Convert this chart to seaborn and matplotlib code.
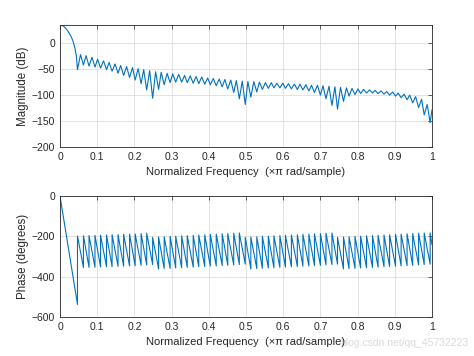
import numpy as np
import pandas as pd
import matplotlib
matplotlib.use("Agg")
import matplotlib.pyplot as plt
import seaborn as sns

# values (N ~ 128 FIR lowpass)

# main lobe of the magnitude response
main_f = [0.0, 0.005, 0.010, 0.015, 0.020, 0.025, 0.030, 0.035, 0.040, 0.044]
main_db = [35, 34.3, 32.5, 29, 24.5, 19, 12.5, 4, -9, -25]

# zeros of the response (visible dip depth in dB)
null_f = [0.047, 0.063, 0.078, 0.094, 0.109, 0.125, 0.140, 0.156, 0.171, 0.187,
          0.202, 0.218, 0.233, 0.249, 0.265, 0.280, 0.296, 0.311, 0.327, 0.342,
          0.358, 0.373, 0.389, 0.404, 0.420, 0.436, 0.451, 0.467, 0.482, 0.498,
          0.513, 0.529, 0.544, 0.560, 0.575, 0.591, 0.606, 0.622, 0.638, 0.653,
          0.669, 0.684, 0.700, 0.715, 0.731, 0.746, 0.762, 0.777, 0.793, 0.808,
          0.824, 0.840, 0.855, 0.871, 0.886, 0.902, 0.917, 0.933, 0.948, 0.964,
          0.979, 0.995]
null_db = [-51, -42, -44, -46, -48, -51, -54, -58, -62, -66,
           -71, -78, -90, -106, -89, -80, -76, -75, -75, -76,
           -77, -78, -79, -80, -82, -84, -88, -95, -107, -118,
           -104, -94, -89, -87, -86, -86, -87, -88, -89, -90,
           -92, -95, -100, -107, -120, -127, -112, -102, -99, -97,
           -96, -96, -97, -98, -100, -102, -105, -109, -115, -124,
           -138, -153]

# sidelobe tops
peak_f = [0.055, 0.070, 0.086, 0.101, 0.117, 0.132, 0.148, 0.163, 0.179, 0.195,
          0.210, 0.225, 0.241, 0.257, 0.272, 0.288, 0.303, 0.319, 0.335, 0.350,
          0.366, 0.381, 0.397, 0.412, 0.428, 0.443, 0.459, 0.474, 0.490, 0.505,
          0.521, 0.536, 0.552, 0.568, 0.583, 0.599, 0.614, 0.630, 0.645, 0.661,
          0.676, 0.692, 0.707, 0.723, 0.739, 0.754, 0.770, 0.785, 0.801, 0.816,
          0.832, 0.847, 0.863, 0.878, 0.894, 0.909, 0.925, 0.940, 0.956, 0.972,
          0.987]
peak_db = [-22, -24, -27, -31, -34, -37, -40, -43, -45, -47,
           -49, -51, -53, -55, -56, -58, -59, -60, -62, -63,
           -64, -65, -67, -68, -69, -70, -71, -72, -73, -74,
           -74, -75, -76, -76, -77, -77, -78, -79, -79, -80,
           -81, -81, -82, -83, -84, -85, -86, -87, -88, -89,
           -90, -91, -92, -93, -94, -96, -98, -100, -103, -108,
           -118]
end_db = -128

# phase: start, tooth tops (after each zero) and bottoms (before each zero)
phase_start = [0, -538]
cycle_top = [-205, -203, -202, -200, -199, -197, -196, -195,
             -193, -192, -190, -189, -187, -186, -184, -183]
cycle_bot = [-362, -360, -359, -357, -356, -354, -353, -351,
             -350, -348, -347, -345, -344, -342, -340, -338]
top_deg = ([-198, -197, -196, -195, -194, -193, -192, -191, -190, -189, -188, -186, -184]
           + cycle_top + cycle_top + cycle_top + [-183])
bot_deg = ([-355, -354, -353, -352, -351, -350, -349, -348, -347, -346, -344, -342, -340]
           + cycle_bot + cycle_bot + cycle_bot)
phase_end = -242

# build the line tables
mag_f = main_f + [v for pair in zip(null_f[:-1], peak_f) for v in pair] + [null_f[-1], 1.0]
mag_y = main_db + [v for pair in zip(null_db[:-1], peak_db) for v in pair] + [null_db[-1], end_db]
mag = pd.DataFrame({"f": mag_f, "db": mag_y})

ph_f = [0.0, null_f[0], null_f[0]] + [v for f in null_f[1:] for v in (f, f)] + [1.0]
ph_y = phase_start + [top_deg[0]] + [v for pair in zip(bot_deg, top_deg[1:]) for v in pair] + [phase_end]
ph = pd.DataFrame({"f": ph_f, "deg": ph_y})

sns.set_theme(style="whitegrid")
plt.rcParams["font.family"] = ["Liberation Sans", "DejaVu Sans"]

blue = "#0072BD"
dark = "#262626"
xlab = "Normalized Frequency  (\u00d7\u03c0 rad/sample)"

fig = plt.figure(figsize=(4.74, 3.56), dpi=100)
ax1 = fig.add_axes([0.1266, 0.587, 0.7848, 0.3427])
ax2 = fig.add_axes([0.1266, 0.110, 0.7848, 0.339])

# faint blog watermark sitting behind the lower x label
fig.text(0.988, 0.036, "blog.csdn.net/qq_45732223", ha="right", va="center",
         color="#dadada", fontsize=7.5, zorder=-1)

sns.lineplot(data=mag, x="f", y="db", ax=ax1, color=blue, lw=0.8, sort=False, estimator=None)
sns.lineplot(data=ph, x="f", y="deg", ax=ax2, color=blue, lw=0.8, sort=False, estimator=None)

ax1.set_ylim(-200, 35)
ax1.set_yticks([0, -50, -100, -150, -200])
ax1.set_ylabel("Magnitude (dB)", labelpad=2)
ax2.set_ylim(-600, 0)
ax2.set_yticks([0, -200, -400, -600])
ax2.set_ylabel("Phase (degrees)", labelpad=2)

xt = [0, 0.1, 0.2, 0.3, 0.4, 0.5, 0.6, 0.7, 0.8, 0.9, 1]
for ax in (ax1, ax2):
    ax.set_xlim(0, 1)
    ax.set_xticks(xt)
    ax.set_xticklabels(["0", "0.1", "0.2", "0.3", "0.4", "0.5", "0.6", "0.7", "0.8", "0.9", "1"])
    ax.set_xlabel(xlab, fontsize=8, color=dark, labelpad=4)
    ax.yaxis.label.set_size(8.3)
    ax.yaxis.label.set_color(dark)
    ax.grid(True, color="#dedede", lw=0.6)
    ax.tick_params(direction="in", top=True, right=True, length=3, width=0.5,
                   labelsize=7.5, colors=dark, pad=3.5)
    for s in ax.spines.values():
        s.set_color(dark)
        s.set_linewidth(0.6)

fig.savefig("out.png", dpi=100, facecolor="white")
